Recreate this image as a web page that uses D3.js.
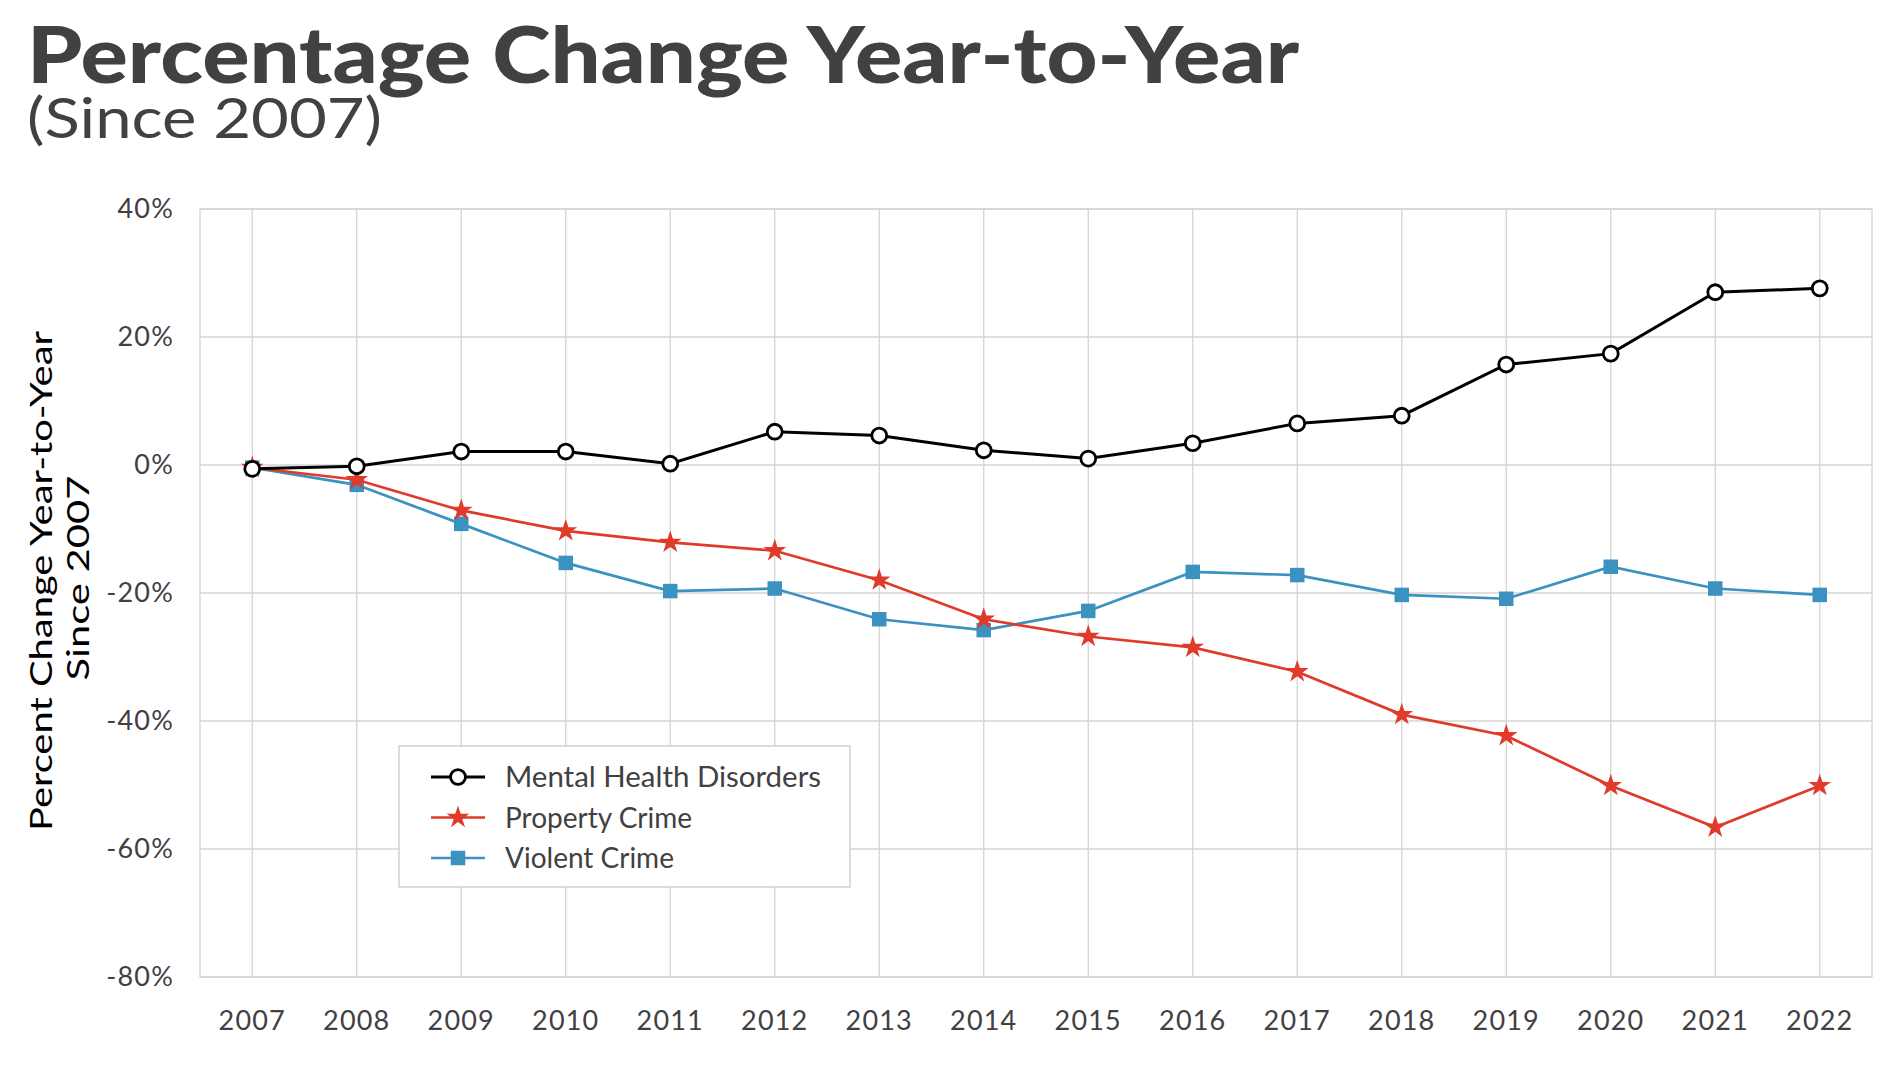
<!DOCTYPE html>
<html>
<head>
<meta charset="utf-8">
<script src="https://cdn.jsdelivr.net/npm/d3@7"></script>
<style>
  html, body { margin: 0; padding: 0; background: #fff; }
  svg { display: block; }
  text { font-family: Lato, "Open Sans", sans-serif; }
</style>
</head>
<body>
<svg id="chart" width="1893" height="1080"></svg>
<script>
const years = ["2007","2008","2009","2010","2011","2012","2013","2014","2015","2016","2017","2018","2019","2020","2021","2022"];
const mentalHealth = [-0.6,-0.2,2.1,2.1,0.2,5.2,4.6,2.3,1.0,3.4,6.5,7.7,15.7,17.4,27.0,27.6];
const propertyCrime = [-0.4,-2.3,-7.1,-10.3,-12.1,-13.4,-18.0,-24.1,-26.8,-28.5,-32.3,-39.0,-42.3,-50.1,-56.6,-50.1];
const violentCrime = [-0.4,-3.1,-9.2,-15.3,-19.7,-19.3,-24.1,-25.8,-22.8,-16.7,-17.2,-20.3,-20.9,-15.9,-19.3,-20.3];
const yTicks = [40,20,0,-20,-40,-60,-80];
const seriesNames = ["Mental Health Disorders","Property Crime","Violent Crime"];

const svg = d3.select("#chart");
const M = {left: 200, right: 1872, top: 209, bottom: 977};

const x = d3.scaleBand().domain(years).range([M.left, M.right]).padding(0);
const cx = d => x(d) + x.bandwidth()/2;
const y = d3.scaleLinear().domain([-80, 40]).range([M.bottom, M.top]);

function fitWidth(sel, w) {
  const cur = sel.node().getComputedTextLength();
  if (cur > 0) sel.attr("textLength", w).attr("lengthAdjust", "spacingAndGlyphs");
}

// title
const title = svg.append("text").attr("x", 27).attr("y", 83)
  .attr("font-size", 78).attr("font-weight", 900).attr("fill", "#414042")
  .text("Percentage Change Year-to-Year");
fitWidth(title, 1272);
const sub = svg.append("text").attr("x", 27).attr("y", 138)
  .attr("font-size", 56).attr("fill", "#414042").text("(Since 2007)");
fitWidth(sub, 355);

// grid
const grid = svg.append("g");
grid.selectAll("line.h").data(yTicks).join("line")
  .attr("x1", M.left).attr("x2", M.right)
  .attr("y1", d => y(d)).attr("y2", d => y(d))
  .attr("stroke", "#d4d4d4").attr("stroke-width", 1.3);
grid.selectAll("line.v").data(years).join("line")
  .attr("x1", d => cx(d)).attr("x2", d => cx(d))
  .attr("y1", M.top).attr("y2", M.bottom)
  .attr("stroke", "#d4d4d4").attr("stroke-width", 1.3);
grid.append("rect").attr("x", M.left).attr("y", M.top)
  .attr("width", M.right - M.left).attr("height", M.bottom - M.top)
  .attr("fill", "none").attr("stroke", "#d4d4d4").attr("stroke-width", 1.3);

// y axis
const yAxis = d3.axisLeft(y).tickValues(yTicks).tickFormat(d => d + "%").tickSize(0).tickPadding(26);
const ya = svg.append("g").attr("transform", `translate(${M.left},0)`).call(yAxis);
ya.select(".domain").remove();
ya.selectAll("text").attr("font-size", 27).attr("fill", "#414042")
  .attr("font-family", "Lato, sans-serif").attr("letter-spacing", 1.2);

// x axis
const xAxis = d3.axisBottom(x).tickSize(0).tickPadding(34);
const xa = svg.append("g").attr("transform", `translate(0,${M.bottom})`).call(xAxis);
xa.select(".domain").remove();
xa.selectAll("text").attr("font-size", 27).attr("fill", "#414042")
  .attr("font-family", "Lato, sans-serif").attr("letter-spacing", 1.2);

// y title
const yt1 = svg.append("text").attr("transform", `translate(52,581) rotate(-90)`)
  .attr("text-anchor", "middle").attr("font-size", 31).attr("fill", "#000")
  .text("Percent Change Year-to-Year");
fitWidth(yt1, 500);
const yt2 = svg.append("text").attr("transform", `translate(89,578) rotate(-90)`)
  .attr("text-anchor", "middle").attr("font-size", 31).attr("fill", "#000")
  .text("Since 2007");
fitWidth(yt2, 205);

const line = d3.line().x((d, i) => cx(years[i])).y(d => y(d));

const series = [
  {name: seriesNames[2], values: violentCrime, color: "#3b91bf", width: 2.7, sym: d3.symbolSquare, size: 210, fill: "#3b91bf", stroke: "none"},
  {name: seriesNames[1], values: propertyCrime, color: "#df3a2a", width: 2.7, sym: d3.symbolStar, size: 160, fill: "#df3a2a", stroke: "none"},
  {name: seriesNames[0], values: mentalHealth, color: "#000", width: 3, sym: d3.symbolCircle, size: 175, fill: "#fff", stroke: "#000"}
];

series.forEach(s => {
  svg.append("path").datum(s.values).attr("d", line)
    .attr("fill", "none").attr("stroke", s.color).attr("stroke-width", s.width);
  svg.append("g").selectAll("path").data(s.values).join("path")
    .attr("transform", (d, i) => `translate(${cx(years[i])},${y(d)})`)
    .attr("d", d3.symbol().type(s.sym).size(s.size))
    .attr("fill", s.fill).attr("stroke", s.stroke).attr("stroke-width", 2.8);
});

// legend
const lg = svg.append("g");
lg.append("rect").attr("x", 399).attr("y", 746).attr("width", 451).attr("height", 141)
  .attr("fill", "#fff").attr("stroke", "#d0d0d0").attr("stroke-width", 1.5);
const legendOrder = [series[2], series[1], series[0]];
legendOrder.forEach((s, i) => {
  const ly = 777 + i * 40.5;
  lg.append("line").attr("x1", 431).attr("x2", 485).attr("y1", ly).attr("y2", ly)
    .attr("stroke", s.color).attr("stroke-width", s.width);
  lg.append("path").attr("transform", `translate(458,${ly})`)
    .attr("d", d3.symbol().type(s.sym).size(s.size))
    .attr("fill", s.fill).attr("stroke", s.stroke).attr("stroke-width", 2.8);
  const t = lg.append("text").attr("x", 505).attr("y", ly).attr("dy", "0.36em")
    .attr("font-size", 28).attr("fill", "#414042").text(s.name);
  if (i === 0) fitWidth(t, 316);
});
</script>
</body>
</html>
